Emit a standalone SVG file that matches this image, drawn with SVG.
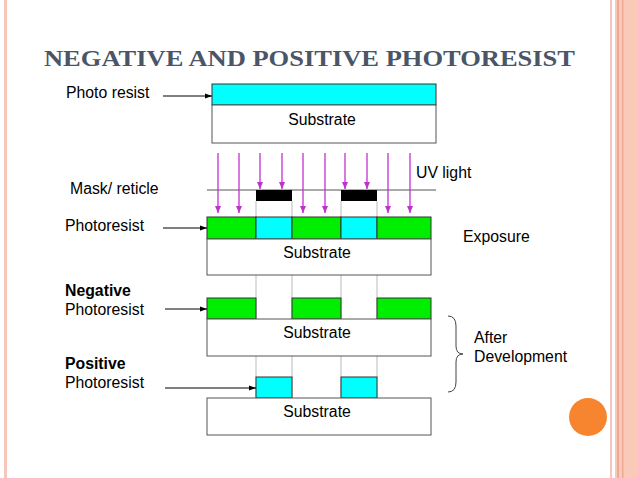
<svg xmlns="http://www.w3.org/2000/svg" width="638" height="478" viewBox="0 0 638 478">
<style>
.t{font-family:"Liberation Sans",Arial,sans-serif;font-size:15.8px;fill:#000}
.b{font-weight:bold}
.sub{fill:#fff;stroke:#555;stroke-width:1}
.g{fill:#00ee00;stroke:#333;stroke-width:1}
.c{fill:#00ffff;stroke:#333;stroke-width:1}
.uv{stroke:#c030d0;stroke-width:1.3;marker-end:url(#pm)}
.ar{stroke:#000;stroke-width:1;marker-end:url(#am)}
.gl{stroke:#bbb;stroke-width:1}
</style>
<defs>
<marker id="pm" markerWidth="8" markerHeight="8" refX="7" refY="4" orient="auto" markerUnits="userSpaceOnUse"><path d="M0,1 L7,4 L0,7 z" fill="#c030d0"/></marker>
<marker id="am" markerWidth="8" markerHeight="8" refX="7" refY="4" orient="auto" markerUnits="userSpaceOnUse"><path d="M0,1.5 L7,4 L0,6.5 z" fill="#000"/></marker>
</defs>
<rect width="638" height="478" fill="#fff"/>
<g id="border">
<rect x="4" y="0" width="3" height="478" fill="#f6c7b8"/>
<rect x="610" y="0" width="2" height="478" fill="#f6c7b8"/>
<rect x="615" y="0" width="23" height="478" fill="#fbc9b8"/>
<rect x="617" y="0" width="2" height="478" fill="#eeaa95"/>
<rect x="622" y="0" width="1.5" height="478" fill="#eeaa95"/>
<circle cx="588" cy="417" r="19" fill="#f7852f"/>
</g>
<text x="44" y="66" font-family="Liberation Serif,serif" font-size="24" font-weight="bold" fill="#4a5568" textLength="531" lengthAdjust="spacingAndGlyphs">NEGATIVE AND POSITIVE PHOTORESIST</text>
<g id="guides">
<line class="gl" x1="256" y1="201" x2="256" y2="398"/>
<line class="gl" x1="292" y1="201" x2="292" y2="398"/>
<line class="gl" x1="341" y1="201" x2="341" y2="398"/>
<line class="gl" x1="377" y1="201" x2="377" y2="398"/>
</g>
<g id="top">
<rect class="c" x="212" y="84" width="224" height="21"/>
<rect class="sub" x="212" y="105" width="224" height="38"/>
<text class="t" x="322" y="125" text-anchor="middle">Substrate</text>
</g>
<g id="mask">
<line x1="207" y1="190" x2="436" y2="190" stroke="#555"/>
<rect x="256" y="190" width="36" height="11" fill="#000"/>
<rect x="341" y="190" width="36" height="11" fill="#000"/>
</g>
<g id="exposure">
<rect class="g" x="207" y="217" width="49" height="22"/>
<rect class="c" x="256" y="217" width="36" height="22"/>
<rect class="g" x="292" y="217" width="49" height="22"/>
<rect class="c" x="341" y="217" width="36" height="22"/>
<rect class="g" x="377" y="217" width="54" height="22"/>
<rect class="sub" x="207" y="239" width="224" height="36"/>
<text class="t" x="317" y="258" text-anchor="middle">Substrate</text>
</g>
<g id="negative">
<rect class="g" x="207" y="298" width="49" height="21"/>
<rect class="g" x="292" y="298" width="49" height="21"/>
<rect class="g" x="377" y="298" width="54" height="21"/>
<rect class="sub" x="207" y="319" width="224" height="37"/>
<text class="t" x="317" y="338" text-anchor="middle">Substrate</text>
</g>
<g id="positive">
<rect class="c" x="256" y="377" width="36" height="21"/>
<rect class="c" x="341" y="377" width="36" height="21"/>
<rect class="sub" x="207" y="398" width="224" height="37"/>
<text class="t" x="317" y="417" text-anchor="middle">Substrate</text>
</g>
<g id="connectors">
<line class="ar" x1="163" y1="96" x2="212" y2="96"/>
<line class="ar" x1="163" y1="228" x2="207" y2="228"/>
<line class="ar" x1="165" y1="309" x2="207" y2="309"/>
<line class="ar" x1="165" y1="388" x2="256" y2="388"/>
<line class="uv" x1="218" y1="153" x2="218" y2="213"/>
<line class="uv" x1="239" y1="153" x2="239" y2="213"/>
<line class="uv" x1="260" y1="153" x2="260" y2="189"/>
<line class="uv" x1="282" y1="153" x2="282" y2="189"/>
<line class="uv" x1="303" y1="153" x2="303" y2="213"/>
<line class="uv" x1="325" y1="153" x2="325" y2="213"/>
<line class="uv" x1="345" y1="153" x2="345" y2="189"/>
<line class="uv" x1="367" y1="153" x2="367" y2="189"/>
<line class="uv" x1="388" y1="153" x2="388" y2="213"/>
<line class="uv" x1="410" y1="153" x2="410" y2="213"/>
<path d="M448,316 Q456,316 456,326 L456,346 Q456,354 463,354 Q456,354 456,362 L456,382 Q456,392 448,392" fill="none" stroke="#444"/>
</g>
<g id="labels">
<text class="t" x="66" y="98">Photo resist</text>
<text class="t" x="70" y="194">Mask/ reticle</text>
<text class="t" x="416" y="178">UV light</text>
<text class="t" x="65" y="231">Photoresist</text>
<text class="t" x="463" y="242">Exposure</text>
<text class="t b" x="65" y="296">Negative</text>
<text class="t" x="65" y="315">Photoresist</text>
<text class="t b" x="65" y="369">Positive</text>
<text class="t" x="65" y="388">Photoresist</text>
<text class="t" x="474" y="343">After</text>
<text class="t" x="474" y="362">Development</text>
</g>
</svg>
